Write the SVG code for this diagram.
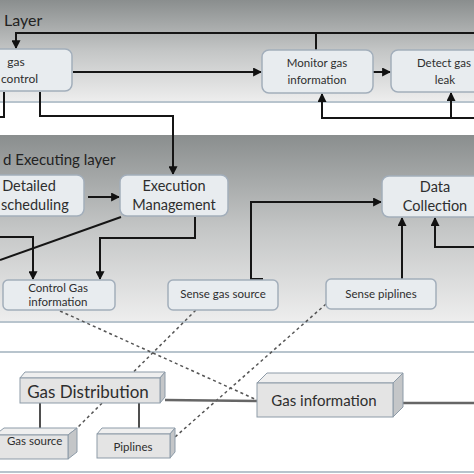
<svg xmlns="http://www.w3.org/2000/svg" width="474" height="474" viewBox="0 0 474 474">
<defs>
<linearGradient id="band" x1="0" y1="0" x2="0" y2="1">
<stop offset="0" stop-color="#8a8e8e"/>
<stop offset="0.5" stop-color="#c4c6c6"/>
<stop offset="1" stop-color="#eeeeee"/>
</linearGradient>
<marker id="arr" viewBox="0 0 8 8" refX="7" refY="4" markerWidth="4.5" markerHeight="4.5" orient="auto" markerUnits="strokeWidth">
<path d="M0,0 L8,4 L0,8 z" fill="#111"/>
</marker>
<style>
.box{fill:#e8ecef;stroke:#a2aebb;stroke-width:1.5}
.t{font-family:Lato,"Open Sans","Liberation Sans",sans-serif;fill:#2e2e2e;text-anchor:middle}
.s{font-size:11.5px}
.b{font-size:14.5px}
.c{fill:none;stroke:#151515;stroke-width:2}
.a{marker-end:url(#arr)}
.d{fill:none;stroke:#555;stroke-width:1.5;stroke-dasharray:3 3}
.g{fill:none;stroke:#666;stroke-width:2.5}
.f{fill:#e4e4e4;stroke:#8d9ba8;stroke-width:1}
.tp{fill:#efefef;stroke:#8d9ba8;stroke-width:1}
.sd{fill:#c4c6c8;stroke:#8d9ba8;stroke-width:1}
.edge{stroke:#b8c4cd;stroke-width:2}
</style>
</defs>
<rect width="474" height="474" fill="#ffffff"/>
<g id="bands">
<rect x="0" y="0" width="474" height="102" fill="url(#band)"/>
<line class="edge" x1="0" y1="102" x2="474" y2="102"/>
<rect x="0" y="135" width="474" height="187" fill="url(#band)"/>
<line class="edge" x1="0" y1="322" x2="474" y2="322"/>
<line class="edge" x1="0" y1="352" x2="474" y2="352"/>
<line class="edge" x1="0" y1="472" x2="474" y2="472"/>
<text class="t" x="4" y="26" style="font-size:16px;text-anchor:start;fill:#222">Layer</text>
<text class="t" x="3" y="165" style="font-size:15px;text-anchor:start;fill:#222">d Executing layer</text>
</g>
<g id="connectors">
<path class="c a" d="M474,33 H16 V48"/>
<path class="c" d="M316,50 V33"/>
<path class="c a" d="M73,72 H261"/>
<path class="c a" d="M373,72 H390"/>
<path class="c a" d="M474,118 H322 V94"/>
<path class="c a" d="M451,118 V93"/>
<path class="c" d="M4,92 V117 H0"/>
<path class="c a" d="M40,92 V116 H173 V174"/>
<path class="c a" d="M88,197 H119"/>
<path class="c" d="M121,217 L0,260"/>
<path class="c a" d="M195,217 V238 H100 V279"/>
<path class="c a" d="M0,237 H33 V279"/>
<path class="c a" d="M263,279 H251 V202 H381"/>
<path class="c a" d="M402,279 V218"/>
<path class="c a" d="M474,247 H435 V218"/>
<path class="d" d="M60,311 L257,400"/>
<path class="d" d="M200,306 L77,428"/>
<path class="d" d="M326,304 L175,437"/>
<path class="g" d="M165,400 L257,401"/>
<path class="g" d="M403,403 H474"/>
<path class="c" style="stroke-width:1.5" d="M40,403 V428"/>
<path class="c" style="stroke-width:1.5" d="M139,403 V428"/>
</g>
<g id="gas-control">
<rect class="box" x="-40" y="49" width="112" height="42" rx="7"/>
<text class="t" x="16" y="66" style="font-size:12px">gas</text>
<text class="t" x="1" y="83" style="font-size:12px;text-anchor:start">control</text>
</g>
<g id="monitor-gas-information">
<rect class="box" x="262" y="50" width="111" height="43" rx="7"/>
<text class="t s" x="317" y="67">Monitor gas</text>
<text class="t s" x="317" y="84">information</text>
</g>
<g id="detect-gas-leak">
<rect class="box" x="391" y="50" width="110" height="42" rx="7"/>
<text class="t s" x="444" y="67">Detect gas</text>
<text class="t s" x="445" y="84">leak</text>
</g>
<g id="detailed-scheduling">
<rect class="box" x="-30" y="175" width="114" height="41" rx="7"/>
<text class="t b" x="29" y="191">Detailed</text>
<text class="t b" x="1" y="210" style="text-anchor:start">scheduling</text>
</g>
<g id="execution-management">
<rect class="box" x="120" y="175" width="108" height="41" rx="7"/>
<text class="t b" x="174" y="191">Execution</text>
<text class="t b" x="174" y="210">Management</text>
</g>
<g id="data-collection">
<rect class="box" x="382" y="176" width="108" height="41" rx="7"/>
<text class="t b" x="435" y="192">Data</text>
<text class="t b" x="435" y="211">Collection</text>
</g>
<g id="control-gas-information">
<rect class="box" x="3" y="280" width="112" height="30" rx="5"/>
<text class="t s" x="58" y="292">Control Gas</text>
<text class="t s" x="58" y="306">information</text>
</g>
<g id="sense-gas-source">
<rect class="box" x="168" y="280" width="110" height="30" rx="5"/>
<text class="t s" x="223" y="298">Sense gas source</text>
</g>
<g id="sense-piplines">
<rect class="box" x="326" y="279" width="110" height="30" rx="5"/>
<text class="t s" x="381" y="298">Sense piplines</text>
</g>
<g id="gas-distribution">
<polygon class="tp" points="20,378 25,372 165,372 160,378"/>
<polygon class="sd" points="160,378 165,372 165,397 160,403"/>
<rect class="f" x="20" y="378" width="140" height="25"/>
<text class="t" x="88" y="398" style="font-size:17px">Gas Distribution</text>
</g>
<g id="gas-source">
<polygon class="tp" points="-5,435 4,428 77,428 68,435"/>
<polygon class="sd" points="68,435 77,428 77,452 68,459"/>
<rect class="f" x="-5" y="435" width="73" height="24"/>
<text class="t s" x="7" y="445" style="text-anchor:start">Gas source</text>
</g>
<g id="piplines">
<polygon class="tp" points="97,434 102,428 175,428 170,434"/>
<polygon class="sd" points="170,434 175,428 175,452 170,458"/>
<rect class="f" x="97" y="434" width="73" height="24"/>
<text class="t s" x="133" y="451">Piplines</text>
</g>
<g id="gas-information">
<polygon class="tp" points="257,383 267,373 403,373 393,383"/>
<polygon class="sd" points="393,383 403,373 403,407 393,417"/>
<rect class="f" x="257" y="383" width="136" height="34"/>
<text class="t" x="324" y="406" style="font-size:15px">Gas information</text>
</g>
</svg>
